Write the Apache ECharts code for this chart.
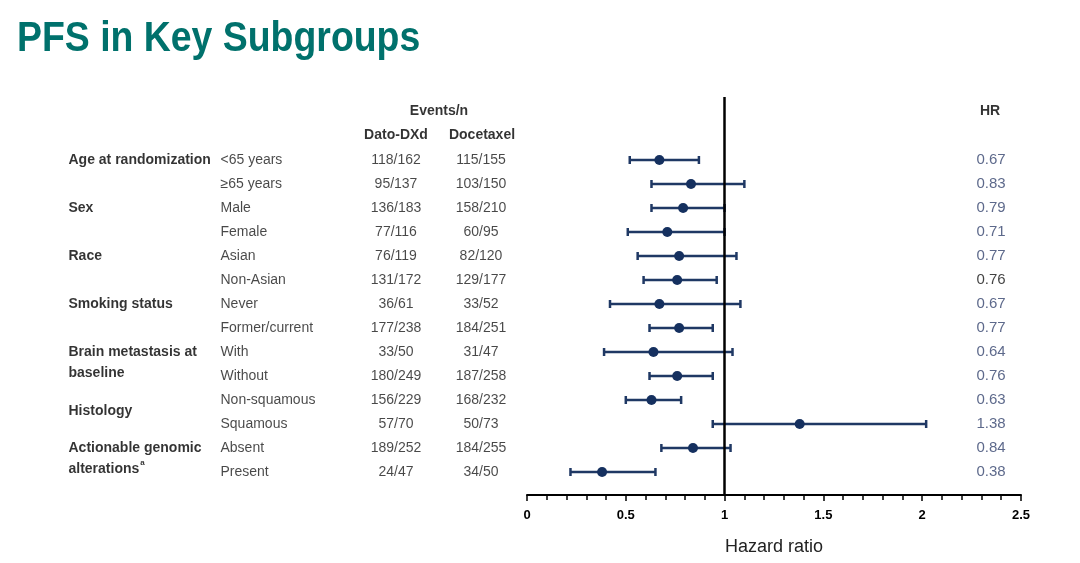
<!DOCTYPE html>
<html>
<head>
<meta charset="utf-8">
<title>PFS in Key Subgroups</title>
<script src="https://cdn.jsdelivr.net/npm/echarts@6.0.0/dist/echarts.min.js"></script>
<style>
  html, body { margin: 0; padding: 0; background: #fff; }
  #main { width: 1080px; height: 563px; }
</style>
</head>
<body>
<div id="main"></div>
<script>
// group labels and the row (0-based, fractional = between rows) they sit on
var groupNames = ['Age at randomization', 'Sex', 'Race', 'Smoking status',
  'Brain metastasis at\nbaseline', 'Histology', 'Actionable genomic\nalterations{sup|a}'];
var groupRows = [0, 2, 4, 6, 8.45, 10.45, 12.45];

var subgroups = ['<65 years', '≥65 years', 'Male', 'Female', 'Asian', 'Non-Asian',
  'Never', 'Former/current', 'With', 'Without', 'Non-squamous', 'Squamous', 'Absent', 'Present'];
var datoEvents = ['118/162', '95/137', '136/183', '77/116', '76/119', '131/172', '36/61',
  '177/238', '33/50', '180/249', '156/229', '57/70', '189/252', '24/47'];
var doceEvents = ['115/155', '103/150', '158/210', '60/95', '82/120', '129/177', '33/52',
  '184/251', '31/47', '187/258', '168/232', '50/73', '184/255', '34/50'];
var hr = [0.67, 0.83, 0.79, 0.71, 0.77, 0.76, 0.67, 0.77, 0.64, 0.76, 0.63, 1.38, 0.84, 0.38];
var ciLow = [0.52, 0.63, 0.63, 0.51, 0.56, 0.59, 0.42, 0.62, 0.39, 0.62, 0.50, 0.94, 0.68, 0.22];
var ciHigh = [0.87, 1.10, 1.00, 1.00, 1.06, 0.96, 1.08, 0.94, 1.04, 0.94, 0.78, 2.02, 1.03, 0.65];

var FONT = "'Liberation Sans', Arial, sans-serif";
var NAVY = '#1f3864';

var chartDom = document.getElementById('main');
var myChart = echarts.init(chartDom);

// one text column = scatter series with invisible symbols and labels
function textColumn(x, rows, texts, align, label, perItem) {
  var data = texts.map(function (t, i) {
    var item = { value: [x, rows[i]], name: t };
    if (perItem) perItem(item, i);
    return item;
  });
  return {
    type: 'scatter',
    xAxisIndex: 0,
    yAxisIndex: 0,
    silent: true,
    symbolSize: 1,
    itemStyle: { color: 'rgba(0,0,0,0)' },
    data: data,
    label: Object.assign({
      show: true,
      formatter: '{b}',
      position: align === 'left' ? 'right' : 'inside',
      distance: 0,
      fontFamily: FONT,
      fontSize: 14,
      color: '#1a1a1a'
    }, label || {})
  };
}

var rowIdx = subgroups.map(function (s, i) { return i; });
var boldHead = { fontWeight: 'bold', color: '#000' };

var series = [
  textColumn(68, groupRows, groupNames, 'left', {
    fontWeight: 'bold', color: '#000', lineHeight: 21,
    rich: { sup: { fontSize: 8, verticalAlign: 'top', padding: [0, 0, 8, 1], color: '#000' } }
  }),
  textColumn(220, rowIdx, subgroups, 'left'),
  textColumn(396, rowIdx, datoEvents, 'center'),
  textColumn(481, rowIdx, doceEvents, 'center'),
  textColumn(991, rowIdx, hr.map(function (v) { return v.toFixed(2); }), 'center',
    { fontSize: 15, color: '#34446e' },
    function (item, i) { if (i === 5) item.label = { color: '#111' }; }),
  textColumn(439, [-2.05], ['Events/n'], 'center', boldHead),
  textColumn(396, [-1.05], ['Dato-DXd'], 'center', boldHead),
  textColumn(482, [-1.05], ['Docetaxel'], 'center', boldHead),
  textColumn(990, [-2.05], ['HR'], 'center', boldHead),
  {
    type: 'custom',
    xAxisIndex: 1,
    yAxisIndex: 1,
    silent: true,
    data: ciLow.map(function (lo, i) { return [lo, ciHigh[i], i]; }),
    renderItem: function (params, api) {
      var y = api.value(2);
      var a = api.coord([api.value(0), y]);
      var b = api.coord([api.value(1), y]);
      var h = 4;
      var st = { stroke: NAVY, lineWidth: 2.5 };
      return {
        type: 'group',
        children: [
          { type: 'line', shape: { x1: a[0], y1: a[1], x2: b[0], y2: b[1] }, style: st },
          { type: 'line', shape: { x1: a[0], y1: a[1] - h, x2: a[0], y2: a[1] + h }, style: st },
          { type: 'line', shape: { x1: b[0], y1: b[1] - h, x2: b[0], y2: b[1] + h }, style: st }
        ]
      };
    },
    z: 3
  },
  {
    type: 'scatter',
    xAxisIndex: 1,
    yAxisIndex: 1,
    silent: true,
    symbolSize: 10,
    itemStyle: { color: '#15305f', opacity: 1 },
    data: hr.map(function (v, i) { return [v, i]; }),
    markLine: {
      silent: true,
      symbol: ['none', 'none'],
      label: { show: false },
      lineStyle: { color: '#000', width: 2.5, type: 'solid' },
      data: [{ xAxis: 1 }]
    },
    z: 4
  }
];

var yCommon = { type: 'value', inverse: true, min: -2.625, max: 13.958, show: false };

var option = {
  animation: false,
  backgroundColor: '#fff',
  graphic: [{
    type: 'text',
    left: 17,
    top: 18,
    scaleX: 0.87,
    style: {
      text: 'PFS in Key Subgroups',
      fontFamily: FONT,
      fontSize: 43,
      fontWeight: 'bold',
      fill: '#00716c'
    }
  }],
  grid: [
    { left: 0, right: 0, top: 97, height: 398 },
    { left: 527, right: 59, top: 97, height: 398 }
  ],
  xAxis: [
    { gridIndex: 0, type: 'value', min: 0, max: 1080, show: false },
    {
      gridIndex: 1,
      type: 'value',
      min: 0,
      max: 2.5,
      interval: 0.5,
      splitLine: { show: false },
      axisLine: { show: true, onZero: false, lineStyle: { color: '#000', width: 2 } },
      axisTick: { show: true, length: 6, lineStyle: { color: '#000', width: 1.5 } },
      minorTick: { show: true, splitNumber: 5, length: 5, lineStyle: { color: '#000', width: 1.5 } },
      axisLabel: { fontFamily: FONT, fontSize: 13, fontWeight: 'bold', color: '#000', margin: 14 },
      name: 'Hazard ratio',
      nameLocation: 'middle',
      nameGap: 43,
      nameTextStyle: { fontFamily: FONT, fontSize: 18, color: '#222' }
    }
  ],
  yAxis: [
    Object.assign({ gridIndex: 0 }, yCommon),
    Object.assign({ gridIndex: 1 }, yCommon)
  ],
  series: series
};

myChart.setOption(option);
</script>
</body>
</html>
